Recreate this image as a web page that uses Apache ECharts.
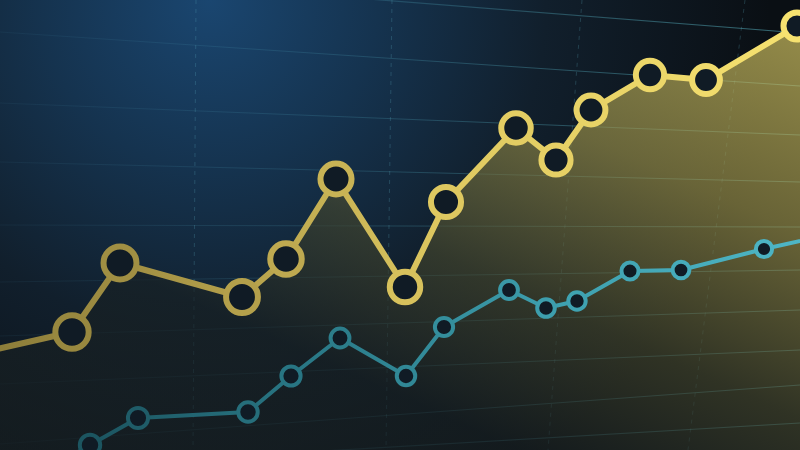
<!DOCTYPE html>
<html>
<head>
<meta charset="utf-8">
<script src="https://cdn.jsdelivr.net/npm/echarts@6/dist/echarts.min.js"></script>
<style>
html,body{margin:0;padding:0;background:#0d151c;}
#chart{width:800px;height:450px;}
</style>
</head>
<body>
<div id="chart"></div>
<script>
// ---- data (x = time position, y = value) ----
var yellowX = [-60, 72, 120, 242, 286, 336, 405, 446, 516, 556, 591, 650, 706, 797, 860];
var yellowY = [88, 118, 187, 153, 191, 271, 163, 248, 322, 290, 340, 375, 370, 424, 455];
var tealX   = [30, 90, 138, 248, 291, 340, 406, 444, 509, 546, 577, 630, 681, 764, 850];
var tealY   = [-30, 5, 32, 38, 74, 112, 74, 123, 160, 142, 149, 179, 180, 201, 220];

function clamp(v){ return Math.max(0, Math.min(1, v)); }
function mix(stops, t){
  t = clamp(t);
  for (var i = 1; i < stops.length; i++){
    if (t <= stops[i][0]){
      var a = stops[i-1], b = stops[i];
      var k = (t - a[0]) / (b[0] - a[0]);
      var c = [0,1,2].map(function(j){ return Math.round(a[1][j] + (b[1][j]-a[1][j])*k); });
      return 'rgb(' + c.join(',') + ')';
    }
  }
  var l = stops[stops.length-1][1];
  return 'rgb(' + l.join(',') + ')';
}
var yellowStops = [[0,[140,125,58]],[0.3,[180,160,75]],[0.55,[222,200,96]],[1,[246,226,112]]];
var tealStops   = [[0,[22,70,80]],[0.4,[42,122,136]],[0.7,[62,160,175]],[1,[78,182,198]]];
function lineGrad(stops){
  return {type:'linear', x:0, y:0, x2:800, y2:0, global:true,
    colorStops: stops.map(function(s){ return {offset:s[0], color:'rgb('+s[1].join(',')+')'}; })};
}

function build(xs, ys, stops, base, extra, bw){
  return xs.map(function(x, i){
    var t = x / 800;
    return {
      value: [x, ys[i]],
      symbolSize: base + (1 - clamp(t)) * extra,
      itemStyle: {color:'#101b25', borderColor: mix(stops, t), borderWidth: bw}
    };
  });
}

var chart = echarts.init(document.getElementById('chart'), null, {renderer:'canvas'});

// perspective grid (decorative)
var hLines = [
  [0,-30,800,33],[0,32,800,86],[0,103,800,135],[0,162,800,182],[0,225,800,227],
  [0,282,800,270],[0,336,800,310],[0,384,800,350],[0,444,800,385],[0,470,800,423]
];
var vLines = [[196,0,193,450],[392,0,386,450],[582,0,548,450],[745,0,688,450]];
var graphics = [];
hLines.forEach(function(l){
  graphics.push({type:'line', z:1, silent:true,
    shape:{x1:l[0],y1:l[1],x2:l[2],y2:l[3]},
    style:{lineWidth:1.2, stroke:{type:'linear',x:0,y:0,x2:800,y2:0,global:true,
      colorStops:[{offset:0,color:'rgba(70,140,170,0.08)'},{offset:0.45,color:'rgba(80,170,190,0.22)'},{offset:1,color:'rgba(95,195,210,0.5)'}]}}
  });
});
vLines.forEach(function(l){
  graphics.push({type:'line', z:1, silent:true,
    shape:{x1:l[0],y1:l[1],x2:l[2],y2:l[3]},
    style:{lineWidth:1, lineDash:[4,5], stroke:'rgba(90,170,190,0.25)'}
  });
});

chart.setOption({
  backgroundColor: {type:'radial', x:210, y:0, r:560, global:true,
    colorStops:[{offset:0,color:'#1a4670'},{offset:0.3,color:'#15334f'},{offset:0.6,color:'#111f2c'},{offset:1,color:'#0a0f14'}]},
  animation:false,
  grid:{left:0,right:0,top:0,bottom:0},
  xAxis:{type:'value', min:0, max:800, show:false},
  yAxis:{type:'value', min:0, max:450, show:false},
  graphic: graphics,
  series:[
    {
      type:'line', z:3,
      data: build(yellowX, yellowY, yellowStops, 27, 7, 6),
      symbol:'circle',
      lineStyle:{width:6, color: lineGrad(yellowStops)},
      areaStyle:{
        color:{type:'linear', x:740, y:20, x2:540, y2:460, global:true,
          colorStops:[{offset:0,color:'rgba(208,193,96,0.97)'},{offset:0.35,color:'rgba(152,142,72,0.95)'},
                      {offset:0.7,color:'rgba(68,70,45,0.93)'},{offset:1,color:'rgba(24,32,34,0.92)'}]}
      },
      clip:true
    },
    {
      type:'line', z:4,
      data: build(tealX, tealY, tealStops, 16, 5, 4),
      symbol:'circle',
      lineStyle:{width:4, color: lineGrad(tealStops)},
      clip:true
    }
  ]
});
</script>
</body>
</html>
